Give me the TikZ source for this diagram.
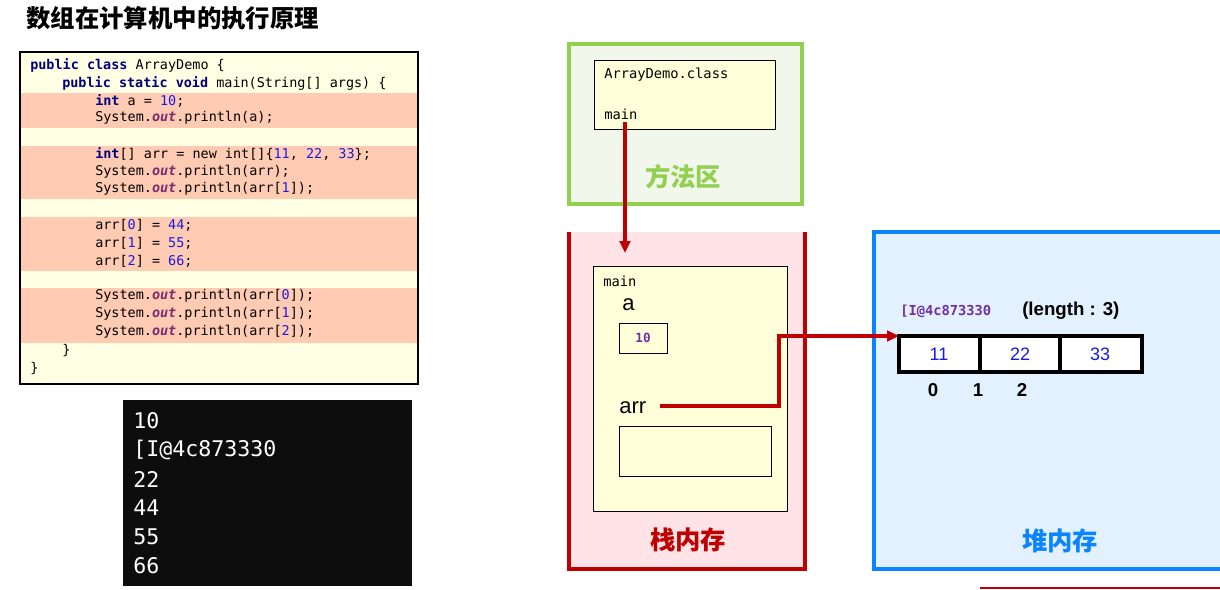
\documentclass[tikz,border=0pt]{standalone}
\usepackage{fontspec}
\setmonofont{DejaVu Sans Mono}
\setsansfont{Liberation Sans}
\newfontfamily\cjk{Noto Sans CJK SC}
\usetikzlibrary{arrows.meta}
\definecolor{codebg}{HTML}{FFFFE3}
\definecolor{hl}{HTML}{FFCBB3}
\definecolor{kw}{HTML}{00007F}
\definecolor{num}{HTML}{1A1AE6}
\definecolor{outc}{HTML}{7A2C6E}
\definecolor{gbord}{HTML}{92D050}
\definecolor{gfill}{HTML}{F2F7EC}
\definecolor{rbord}{HTML}{C00000}
\definecolor{rfill}{HTML}{FFE3E6}
\definecolor{bbord}{HTML}{0A84FF}
\definecolor{bfill}{HTML}{E3F0FD}
\definecolor{ylw}{HTML}{FFFFD9}
\definecolor{purp}{HTML}{7030A0}
\newcommand{\K}[1]{\textbf{\color{kw}#1}}
\newcommand{\N}[1]{{\color{num}#1}}
\newcommand{\Ot}{\textbf{\textit{\color{outc}out}}}
\begin{document}
\begin{tikzpicture}[x=0.75pt,y=-0.75pt,
  code/.style={anchor=west,inner sep=0,font=\ttfamily\fontsize{10.1}{12}\selectfont},
  cons/.style={anchor=west,inner sep=0,text=white,font=\ttfamily\fontsize{16.2}{18}\selectfont},
  title/.style={font=\cjk\bfseries\fontsize{18.3}{20}\selectfont},
  lab/.style={font=\cjk\bfseries\fontsize{19}{22}\selectfont},
  thin/.style={draw=black,line width=0.7pt,fill=ylw},
  conn/.style={rbord,line width=2.4pt,-{Triangle[length=9pt,width=8pt]}}]
\useasboundingbox (0,0) rectangle (1220,589);
\node[title,anchor=west,inner sep=0] (t) at (26,18) {数组在计算机中的执行原理};
% code panel
\fill[codebg] (20,52) rectangle (418,384);
\fill[hl] (20,93) rectangle (418,128);
\fill[hl] (20,146) rectangle (418,199);
\fill[hl] (20,217) rectangle (418,271);
\fill[hl] (20,288) rectangle (418,343);
\draw[line width=0.8pt] (20,52) rectangle (418,384);
\node[code] (c1) at (30,65) {\K{public class} ArrayDemo \{};
\node[code] (c2) at (62,83) {\K{public static void} main(String[] args) \{};
\node[code] (c3) at (95,101) {\K{int} a = \N{10};};
\node[code] (c4) at (95,118) {System.\Ot.println(a);};
\node[code] (c6) at (95,154) {\K{int}[] arr = new int[]\{\N{11}, \N{22}, \N{33}\};};
\node[code] (c7) at (95,172) {System.\Ot.println(arr);};
\node[code] (c8) at (95,189) {System.\Ot.println(arr[\N{1}]);};
\node[code] (c10) at (95,225) {arr[\N{0}] = \N{44};};
\node[code] (c11) at (95,243) {arr[\N{1}] = \N{55};};
\node[code] (c12) at (95,261) {arr[\N{2}] = \N{66};};
\node[code] (c14) at (95,296) {System.\Ot.println(arr[\N{0}]);};
\node[code] (c15) at (95,314) {System.\Ot.println(arr[\N{1}]);};
\node[code] (c16) at (95,332) {System.\Ot.println(arr[\N{2}]);};
\node[code] (c17) at (62,350) {\}};
\node[code] (c18) at (30,368) {\}};
% console
\fill[black!95] (123,400) rectangle (412,586);
\node[cons] (o1) at (133,421) {10};
\node[cons] (o2) at (133,450) {[I@4c873330};
\node[cons] (o3) at (133,479) {22};
\node[cons] (o4) at (133,508) {44};
\node[cons] (o5) at (133,537) {55};
\node[cons] (o6) at (133,566) {66};
% method area
\draw[gbord,fill=gfill,line width=2.6pt] (569,44) rectangle (802,204);
\draw[thin] (594,60) rectangle (775,129);
\node[code,font=\ttfamily\fontsize{10.3}{12}\selectfont] (cls) at (604,75) {ArrayDemo.class};
\node[code,font=\ttfamily\fontsize{10.3}{12}\selectfont] (mm) at (604,114) {main};
\node[lab,text=gbord] (ma) at (683,177) {方法区};
% stack
\fill[rfill] (569,232) rectangle (805,569);
\draw[rbord,line width=2.6pt] (569,232) -- (569,569) -- (805,569) -- (805,232);
\draw[thin] (593,266) rectangle (787,511);
\node[code,font=\ttfamily\fontsize{10.3}{12}\selectfont] (sm) at (603,281) {main};
\node[anchor=west,inner sep=0,font=\sffamily\fontsize{16.5}{18}\selectfont] (va) at (622,305) {a};
\node[thin,minimum width=36pt,minimum height=22.5pt,inner sep=0,font=\ttfamily\bfseries\fontsize{9.5}{11}\selectfont,text=purp] (b10) at (643,338) {10\hspace{14pt}};
\node[anchor=west,inner sep=0,font=\sffamily\fontsize{16.5}{18}\selectfont] (varr) at (619,408) {arr};
\node[thin,minimum width=114pt,minimum height=37pt,inner sep=0] (barr) at (695,451.5) {};
\node[lab,text=rbord] (sk) at (688,540) {栈内存};
\coordinate (mtop) at (625,122);
\coordinate (stk) at (625,253);
\draw[conn] (mtop) -- (stk);
% heap
\fill[bfill] (874,232) rectangle (1225,569);
\draw[bbord,line width=2.6pt] (1225,232) -- (874,232) -- (874,569) -- (1225,569);
\node[anchor=west,inner sep=0,font=\ttfamily\bfseries\fontsize{10.3}{12}\selectfont,text=purp] (addr) at (900,311) {[I@4c873330};
\node[anchor=west,inner sep=0,font=\sffamily\bfseries\fontsize{14}{16}\selectfont] (len) at (1022,311) {(length : 3)};
\draw[line width=2.6pt,fill=white] (899,336) rectangle (1142,372);
\draw[line width=2.6pt] (980,336) -- (980,372) (1060,336) -- (1060,372);
\node[font=\sffamily\fontsize{13.5}{15}\selectfont,text=num] (v1) at (939,354) {11};
\node[font=\sffamily\fontsize{13.5}{15}\selectfont,text=num] (v2) at (1020,354) {22};
\node[font=\sffamily\fontsize{13.5}{15}\selectfont,text=num] (v3) at (1100,354) {33};
\node[font=\sffamily\bfseries\fontsize{14}{15}\selectfont] (i0) at (933,390) {0};
\node[font=\sffamily\bfseries\fontsize{14}{15}\selectfont] (i1) at (978,390) {1};
\node[font=\sffamily\bfseries\fontsize{14}{15}\selectfont] (i2) at (1022,390) {2};
\node[lab,text=bbord] (hp) at (1060,541) {堆内存};
\coordinate (arrend) at (660,406);
\coordinate (cell0) at (899,336);
\draw[conn] (arrend) -- (779,406) -- (779,336) -- (cell0);
\draw[rbord,line width=1.4pt] (980,588) -- (1220,588);
\end{tikzpicture}
\end{document}
